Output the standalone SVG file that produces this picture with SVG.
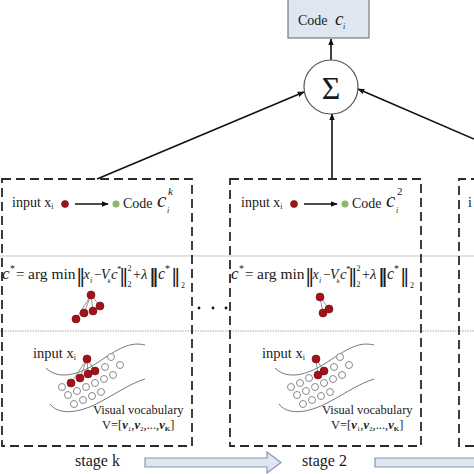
<svg xmlns="http://www.w3.org/2000/svg" width="474" height="474" viewBox="0 0 474 474">
<defs>
<style>
text{font-family:"Liberation Serif","DejaVu Serif",serif;fill:#1a1a1a}
.t14{font-size:14px}
.it{font-style:italic}
.sm{font-size:8px}
.bar{font-family:"DejaVu Serif",serif;font-size:19px}
.dash{fill:none;stroke:#2a2a2a;stroke-width:1.8;stroke-dasharray:9 5}
.con{stroke:#111;stroke-width:1.6;fill:none}
.red{fill:#a3121a;stroke:#6e0a0e;stroke-width:0.6}
.grn{fill:#8fb565}
.hol{fill:#fff;stroke:#8a8a8a;stroke-width:1}
.tree{stroke:#777;stroke-width:0.8}
.crv{fill:none;stroke:#777;stroke-width:1}
.blk{fill:#dde6f1;stroke:#8898ac;stroke-width:1.2}
</style>
<marker id="ah" viewBox="0 0 10 10" refX="9" refY="5" markerWidth="7" markerHeight="7" orient="auto" markerUnits="userSpaceOnUse">
<path d="M0,1 L10,5 L0,9 z" fill="#111"/>
</marker>
<g id="formula">
<text x="2" y="279" class="it" font-size="17">c</text>
<text x="10" y="272" font-size="10">*</text>
<text x="16" y="279" font-size="15">=</text>
<text x="28" y="279" font-size="15.5">arg min</text>
<text x="76" y="282" class="bar">‖</text>
<text x="83.5" y="279" class="it" font-size="14">x</text>
<text x="90" y="283" class="it sm">i</text>
<text x="94" y="279" font-size="13">−</text>
<text x="101" y="279" class="it" font-size="14">V</text>
<text x="107.5" y="283" class="it" font-size="7">k</text>
<text x="111" y="279" class="it" font-size="15">c</text>
<text x="117" y="272" font-size="9">*</text>
<text x="119" y="282" class="bar">‖</text>
<text x="127.5" y="271" class="sm">2</text>
<text x="127.5" y="287" class="sm">2</text>
<text x="133" y="279" font-size="14">+</text>
<text x="141" y="279" class="it" font-size="15">λ</text>
<text x="149" y="282" class="bar" font-weight="bold">‖</text>
<text x="158" y="279" class="it" font-size="16">c</text>
<text x="165" y="272" font-size="10">*</text>
<text x="171" y="282" class="bar">‖</text>
<text x="181" y="288" class="sm">2</text>
</g>
<g id="cloud">
<path class="crv" d="M46,368 C58,380 78,376 100,361 S132,342 145,345"/>
<path class="crv" d="M50,404 C58,415 78,414 100,402 S130,384 145,379"/>
<circle class="hol" cx="62" cy="387" r="3.5"/>
<circle class="hol" cx="105" cy="367" r="3.5"/>
<circle class="hol" cx="111" cy="357" r="3.5"/>
<circle class="hol" cx="120" cy="365" r="3.5"/>
<circle class="hol" cx="68" cy="395" r="3.5"/>
<circle class="hol" cx="77" cy="391" r="3.5"/>
<circle class="hol" cx="86" cy="387" r="3.5"/>
<circle class="hol" cx="95" cy="383" r="3.5"/>
<circle class="hol" cx="104" cy="379" r="3.5"/>
<circle class="hol" cx="113" cy="375" r="3.5"/>
<circle class="hol" cx="74" cy="404" r="3.5"/>
<circle class="hol" cx="83" cy="400" r="3.5"/>
<circle class="hol" cx="92" cy="396" r="3.5"/>
<circle class="hol" cx="101" cy="392" r="3.5"/>
<text x="93" y="414" font-size="12.5">Visual vocabulary</text>
<text x="102" y="429" font-size="12.5">V=[<tspan class="it" font-weight="bold">v</tspan><tspan font-size="7" dy="2">1</tspan><tspan dy="-2">,</tspan><tspan class="it" font-weight="bold">v</tspan><tspan font-size="7" dy="2">2</tspan><tspan dy="-2">,...,</tspan><tspan class="it" font-weight="bold">v</tspan><tspan font-size="7" dy="2" font-weight="bold">K</tspan><tspan dy="-2">]</tspan></text>
</g>
</defs>

<rect width="474" height="474" fill="#fff"/>

<line x1="0" y1="256" x2="474" y2="256" stroke="#c4c4c4" stroke-width="1.2"/>
<line x1="0" y1="331" x2="474" y2="331" stroke="#a8a8a8" stroke-width="1.2" stroke-dasharray="1.5 1"/>

<g id="connectors">
<line class="con" x1="331" y1="60" x2="331" y2="39" marker-end="url(#ah)"/>
<line class="con" x1="97" y1="179" x2="304" y2="92" marker-end="url(#ah)"/>
<line class="con" x1="332" y1="179" x2="332" y2="114" marker-end="url(#ah)"/>
<line class="con" x1="474" y1="139" x2="358" y2="89" marker-end="url(#ah)"/>
</g>

<g id="code-box">
<rect x="288" y="-2" width="81" height="40" fill="#dde6f1" stroke="#7a7a7a" stroke-width="1.2"/>
<text x="298" y="25" class="t14">Code</text>
<text x="335" y="25" class="it" font-size="19">c</text>
<text x="343" y="29" class="it" font-size="8">i</text>
</g>

<g id="sum">
<circle cx="331" cy="87" r="27" fill="#fff" stroke="#555" stroke-width="1.2"/>
<text x="331" y="99" font-size="32" text-anchor="middle">Σ</text>
</g>

<g id="stage-k">
<rect class="dash" x="2" y="179" width="190" height="267"/>
<text x="12" y="207" class="t14">input x<tspan font-size="8" dy="2">i</tspan></text>
<circle class="red" cx="65" cy="204" r="3.5"/>
<line x1="75" y1="204" x2="108" y2="204" stroke="#111" stroke-width="1.4" marker-end="url(#ah)"/>
<circle class="grn" cx="116" cy="204" r="3.5"/>
<text x="123" y="208" font-size="14">Code</text>
<text x="157" y="207" class="it" font-size="21">c</text>
<text x="167" y="213" class="it" font-size="8">i</text>
<text x="168" y="195" class="it" font-size="11">k</text>
<use href="#formula"/>
<line class="tree" x1="91" y1="295" x2="76" y2="319"/>
<line class="tree" x1="91" y1="295" x2="84" y2="313"/>
<line class="tree" x1="91" y1="295" x2="93" y2="311"/>
<line class="tree" x1="91" y1="295" x2="100" y2="306"/>
<circle class="red" cx="91" cy="295" r="4"/>
<circle class="red" cx="76" cy="319" r="4"/>
<circle class="red" cx="84" cy="313" r="4"/>
<circle class="red" cx="93" cy="311" r="4"/>
<circle class="red" cx="100" cy="306" r="4"/>
<use href="#cloud"/>
<text x="33" y="358" font-size="14.5">input x<tspan font-size="8" dy="2">i</tspan></text>
<line class="tree" x1="87" y1="359" x2="71" y2="383"/>
<line class="tree" x1="87" y1="359" x2="80" y2="378"/>
<line class="tree" x1="87" y1="359" x2="88" y2="374"/>
<line class="tree" x1="87" y1="359" x2="95" y2="371"/>
<circle class="red" cx="87" cy="359" r="4"/>
<circle class="red" cx="71" cy="383" r="4"/>
<circle class="red" cx="80" cy="378" r="4"/>
<circle class="red" cx="88" cy="374" r="4"/>
<circle class="red" cx="95" cy="371" r="4"/>
<text x="75" y="466" font-size="16">stage k</text>
</g>

<g id="ellipsis">
<circle cx="199" cy="308" r="1.4" fill="#111"/>
<circle cx="213" cy="308" r="1.4" fill="#111"/>
<circle cx="226" cy="308" r="1.4" fill="#111"/>
</g>

<g id="stage-2">
<rect class="dash" x="230" y="179" width="191" height="267"/>
<g transform="translate(229,0)">
<text x="12" y="207" class="t14">input x<tspan font-size="8" dy="2">i</tspan></text>
<circle class="red" cx="65" cy="204" r="3.5"/>
<line x1="75" y1="204" x2="108" y2="204" stroke="#111" stroke-width="1.4" marker-end="url(#ah)"/>
<circle class="grn" cx="116" cy="204" r="3.5"/>
<text x="123" y="208" font-size="14">Code</text>
<text x="157" y="207" class="it" font-size="21">c</text>
<text x="167" y="213" class="it" font-size="8">i</text>
<text x="168" y="195" font-size="11">2</text>
<use href="#formula"/>
<use href="#cloud"/>
<circle class="hol" cx="71" cy="383" r="3.5"/>
<circle class="hol" cx="80" cy="378" r="3.5"/>
<text x="33" y="358" font-size="14.5">input x<tspan font-size="8" dy="2">i</tspan></text>
<text x="73" y="466" font-size="16">stage 2</text>
</g>
<line class="tree" x1="320" y1="297" x2="323" y2="313"/>
<line class="tree" x1="320" y1="297" x2="329" y2="309"/>
<circle class="red" cx="320" cy="297" r="4"/>
<circle class="red" cx="323" cy="313" r="4"/>
<circle class="red" cx="329" cy="309" r="4"/>
<line class="tree" x1="316" y1="359" x2="318" y2="375"/>
<line class="tree" x1="316" y1="359" x2="324" y2="371"/>
<circle class="red" cx="316" cy="359" r="4"/>
<circle class="red" cx="318" cy="375" r="4"/>
<circle class="red" cx="324" cy="371" r="4"/>
</g>

<g id="stage-next">
<path class="dash" d="M480,179 H459 V446 H480"/>
<text x="468" y="207" class="t14">i</text>
</g>

<g id="flow-arrows">
<path class="blk" d="M145,458 H267 V452 L281,462.5 L267,473 V467 H145 Z"/>
<path class="blk" d="M480,458 H375 V467 H480"/>
</g>
</svg>
